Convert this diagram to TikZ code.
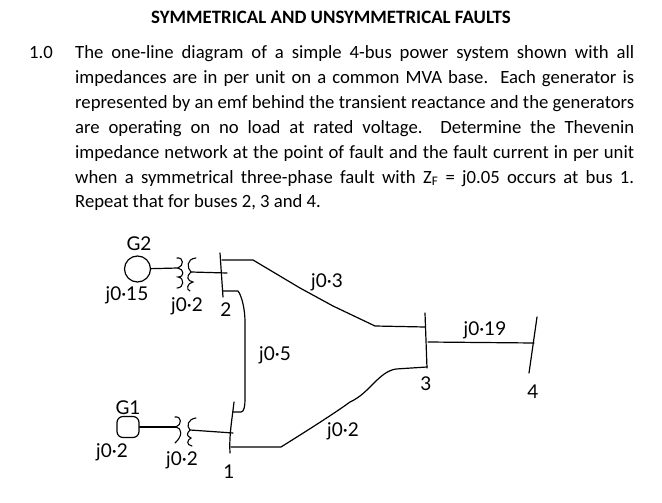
\documentclass[tikz,border=0pt]{standalone}
\usepackage{fontspec}
\setmainfont{Carlito}
\newfontfamily\handfont{Lato}
\tikzset{
  wire/.style={line width=1.2pt,black,line cap=round,line join=round},
  coilw/.style={line width=1.1pt,black,line cap=round},
  gen/.style={circle,draw,line width=1.2pt,inner sep=0pt},
  hand/.style={font=\handfont\fontsize{19}{19}\selectfont,inner sep=0pt},
  bodyline/.style={anchor=base west,inner sep=0pt,font=\fontsize{18.7}{22}\selectfont},
}
\newcommand{\jline}[1]{\hbox to 559pt{\spaceskip=0.226em plus 1em minus 0.05em\relax #1}}
\begin{document}
\begin{tikzpicture}[x=1pt,y=-1pt]
\useasboundingbox (0,0) rectangle (662,503);
% text
\node[inner sep=0pt,font=\fontsize{18.9}{22}\bfseries\selectfont] (title) at (331,17) {SYMMETRICAL AND UNSYMMETRICAL FAULTS};
\node[bodyline] (num) at (29,59) {1.0};
\node[bodyline] (l1) at (75,59)  {\jline{The one-line diagram of a simple 4-bus power system shown with all}};
\node[bodyline] (l2) at (75,84)  {\jline{impedances are in per unit on a common MVA base.\ \ Each generator is}};
\node[bodyline] (l3) at (75,109) {\jline{represented by an emf behind the transient reactance and the generators}};
\node[bodyline] (l4) at (75,134) {\jline{are operating on no load at rated voltage.\ \ Determine the Thevenin}};
\node[bodyline] (l5) at (75,158) {\jline{impedance network at the point of fault and the fault current in per unit}};
\node[bodyline] (l6) at (75,183) {\jline{when a symmetrical three-phase fault with Z\textsubscript{F} = j0.05 occurs at bus 1.}};
\node[bodyline] (l7) at (75,207) {Repeat that for buses 2, 3 and 4.};
% generators
\node[gen,minimum size=26pt] (g2) at (137.5,269) {};
\node[gen,rounded corners=6pt,rectangle,minimum width=22pt,minimum height=21pt] (g1) at (128,427) {};
% bus bars
\coordinate (b2t) at (220,253); \coordinate (b2b) at (223,297);
\coordinate (b1t) at (234,402); \coordinate (b1b) at (230,453);
\coordinate (b3t) at (425,313); \coordinate (b3b) at (427,368);
\coordinate (b4t) at (537,317); \coordinate (b4b) at (529,373);
\draw[wire] (b2t) -- (b2b);
\draw[wire] (b1t) .. controls (232,420) and (229,435) .. (b1b);
\draw[wire] (b3t) -- (b3b);
\draw[wire] (b4t) -- (b4b);
% transformers
\coordinate (t2l) at (178,268); \coordinate (t2r) at (191,272);
\coordinate (t1l) at (176,427); \coordinate (t1r) at (190,430);
\draw[coilw] (177,258) .. controls (184,257) and (184,266) .. (t2l) .. controls (184,269) and (185,277) .. (178,277) .. controls (185,278) and (184,288) .. (177,288);
\draw[coilw] (196,258) .. controls (186,259) and (187,268) .. (t2r) .. controls (186,276) and (187,281) .. (193,282) .. controls (187,283) and (186,290) .. (190,291);
\draw[coilw] (175,417) .. controls (182,416) and (182,425) .. (t1l) .. controls (182,428) and (183,436) .. (175,443);
\draw[coilw] (196,418) .. controls (188,419) and (186,426) .. (t1r) .. controls (186,434) and (187,436) .. (191,438) .. controls (187,440) and (186,445) .. (192,446);
% connectors
\coordinate (a1) at (227,273); \coordinate (a2) at (233,433);
\draw[wire] (g2) -- (t2l);
\draw[wire] (t2r) -- (a1);
\draw[wire] (g1.east) -- (t1l);
\draw[wire] (t1r) -- (a2);
\coordinate (u1) at (222,260); \coordinate (u2) at (425,327);
\draw[wire] (u1) -- (253,260) -- (300,288) -- (333,306) -- (375,326) -- (u2);
\coordinate (m1) at (223,291); \coordinate (m2) at (233,412);
\draw[wire] (m1) -- (238,291) .. controls (242,296) and (245,310) .. (245,322) -- (245,400) .. controls (245,406) and (244,412) .. (241,412) -- (m2);
\coordinate (d1) at (231,447); \coordinate (d2) at (427,367);
\draw[wire] (d1) -- (281,447) .. controls (305,432) and (335,413) .. (350,402) .. controls (370,393) and (378,372) .. (396,369) -- (d2);
\coordinate (r1) at (428,342); \coordinate (r2) at (534,343);
\draw[wire] (r1) -- (r2);
% labels
\node[hand] (lg2) at (139,244) {G2};
\node[hand] (lg1) at (128,408) {G1};
\node[hand] (lz1) at (127,295) {j0·15};
\node[hand] (lz2) at (187,306) {j0·2};
\node[hand] (lb2) at (226,310) {2};
\node[hand] (lz3) at (327,282) {j0·3};
\node[hand] (lz4) at (275,355) {j0·5};
\node[hand] (lz5) at (485,330) {j0·19};
\node[hand] (lb3) at (426,384) {3};
\node[hand] (lb4) at (533,392) {4};
\node[hand] (lz6) at (343,431) {j0·2};
\node[hand] (lb1) at (229,472) {1};
\node[hand] (lz7) at (112,452) {j0·2};
\node[hand] (lz8) at (182,460) {j0·2};
\end{tikzpicture}
\end{document}
